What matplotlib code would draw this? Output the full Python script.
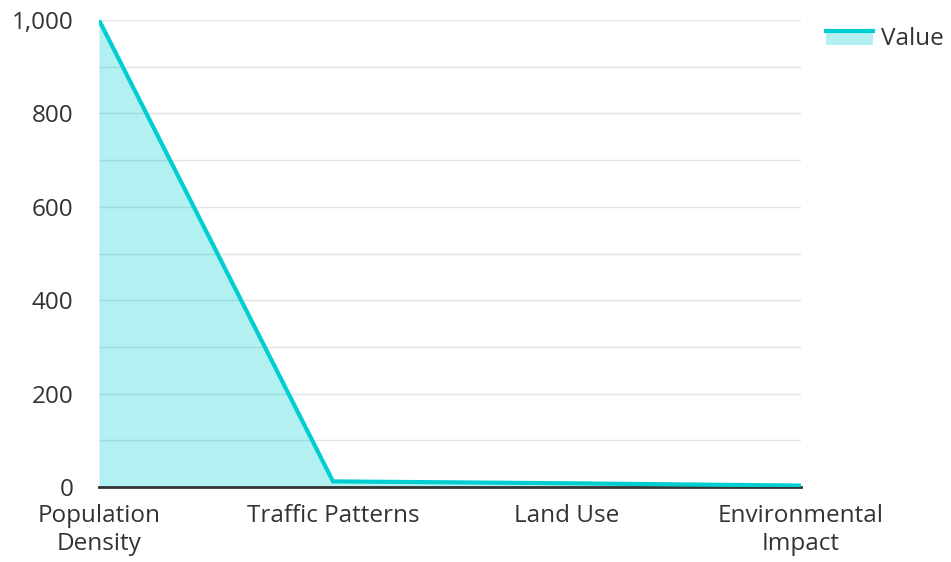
import matplotlib.pyplot as plt
from matplotlib.legend_handler import HandlerBase
from matplotlib.patches import Rectangle
from matplotlib.lines import Line2D
from matplotlib.ticker import MultipleLocator, FuncFormatter

plt.rcParams['font.family'] = ['Open Sans', 'DejaVu Sans']

# --- Data ---
categories = ["Population\nDensity", "Traffic Patterns", "Land Use", "Environmental\nImpact"]
values = [1000, 12, 8, 3]

line_color = "#00CED1"
text_color = "#333333"


class AreaHandler(HandlerBase):
    """Legend key: light filled box with the line along its top."""
    def create_artists(self, legend, orig_handle, xdescent, ydescent,
                       width, height, fontsize, trans):
        box = Rectangle((-xdescent, -ydescent), width, height * 0.85,
                        facecolor=line_color, alpha=0.3, edgecolor="none",
                        transform=trans)
        top = -ydescent + height * 0.85
        ln = Line2D([-xdescent, -xdescent + width], [top, top],
                    color=line_color, lw=3, transform=trans)
        return [box, ln]


fig = plt.figure(figsize=(9.51, 5.62), dpi=100)
ax = fig.add_axes([99 / 951, 75 / 562, 702 / 951, 467 / 562])

x = list(range(len(categories)))
ax.fill_between(x, values, 0, color=line_color, alpha=0.3, lw=0)
ax.plot(x, values, color=line_color, lw=3, solid_joinstyle="miter", zorder=3)

ax.set_xlim(0, len(categories) - 1)
ax.set_ylim(0, 1000)
ax.yaxis.set_major_locator(MultipleLocator(200))
ax.yaxis.set_minor_locator(MultipleLocator(100))
ax.yaxis.set_major_formatter(FuncFormatter(lambda v, p: f"{int(v):,}"))
ax.grid(True, axis="y", which="both", color="#e3e3e3", lw=1)
ax.set_axisbelow(True)

ax.set_xticks(x)
ax.set_xticklabels(categories, ha="center", linespacing=1.25)
ax.tick_params(axis="both", which="both", length=0, colors=text_color, labelsize=17.5)
ax.tick_params(axis="y", pad=18.5)
ax.tick_params(axis="x", pad=12)

for s in ["top", "right", "left"]:
    ax.spines[s].set_visible(False)
ax.spines["bottom"].set_color(text_color)
ax.spines["bottom"].set_linewidth(2)

ax.legend([object()], ["Value"], handler_map={object: AreaHandler()},
          loc="upper left", bbox_to_anchor=(826 / 951, 535 / 562),
          bbox_transform=fig.transFigure, frameon=False, fontsize=17.5,
          handlelength=1.95, handletextpad=0.3, borderpad=0, borderaxespad=0,
          labelcolor=text_color)

fig.savefig("out.png", dpi=100)
